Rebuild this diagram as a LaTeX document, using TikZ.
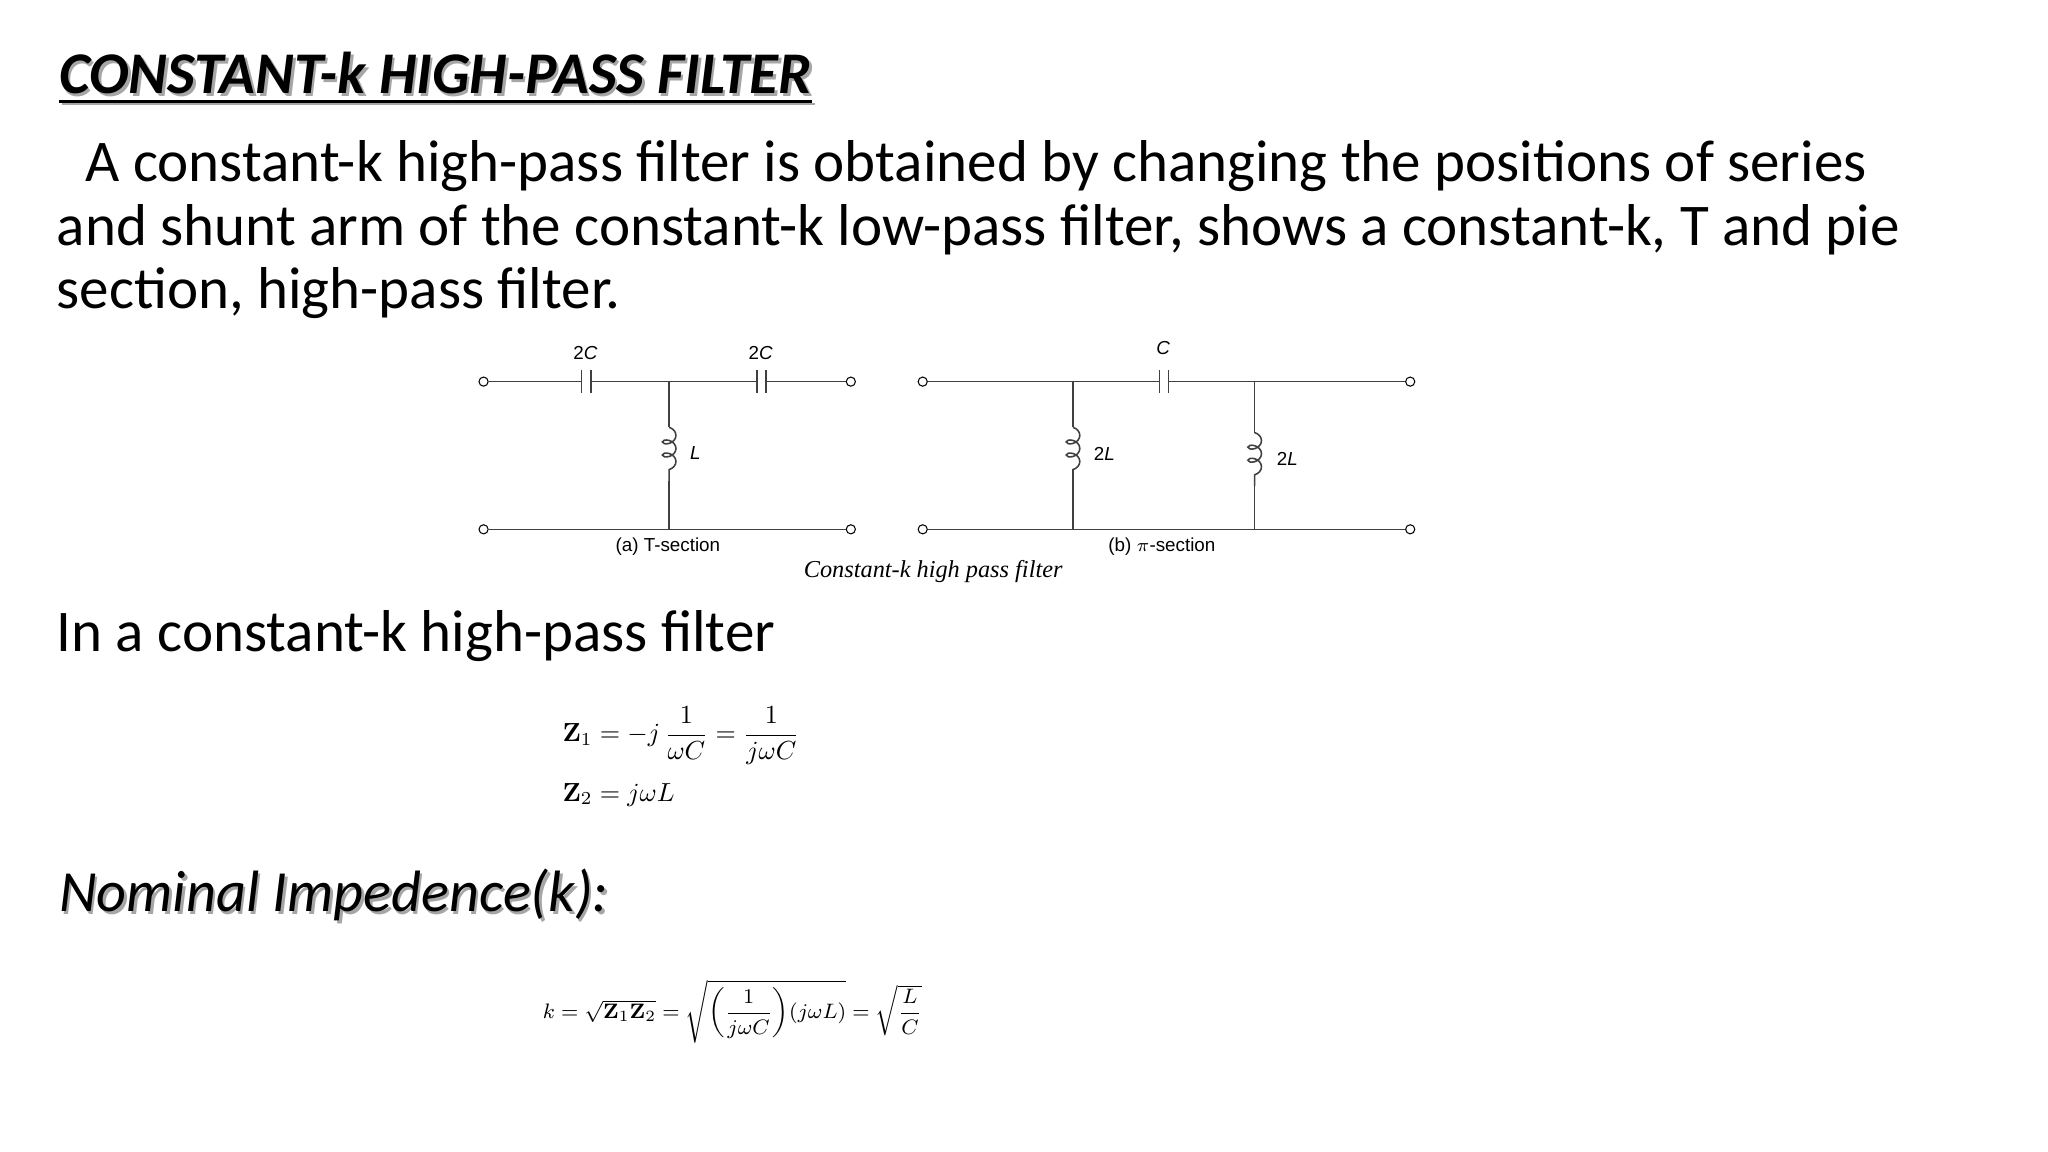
\documentclass[tikz,border=0pt]{standalone}
\usepackage{amsmath}
\usepackage[no-math]{fontspec}
\setmainfont{Carlito}
\newfontfamily\circfont{Liberation Sans}
\newfontfamily\capfont{Liberation Serif}
\usetikzlibrary{decorations.pathmorphing}
\begin{document}
\begin{tikzpicture}[x=0.5pt,y=-0.5pt,
  term/.style={circle,draw,inner sep=0pt,minimum size=3.5pt,fill=white},
  wire/.style={draw=black!75,line width=0.6pt},
  lbl/.style={font=\circfont\fontsize{7.2}{8}\selectfont,inner sep=1pt},
  body/.style={font=\fontsize{22.6}{26}\selectfont,anchor=west,inner sep=0pt},
  coilst/.style={wire,decoration={coil,aspect=0.7,segment length=5pt,amplitude=2.6pt},decorate}]
\useasboundingbox (0,0) rectangle (1567,881);
% title
\node[body,font=\bfseries\itshape\fontsize{22.6}{26}\selectfont,text=black!35] at (47,62) {\underline{CONSTANT-k HIGH-PASS FILTER}};
\node[body,font=\bfseries\itshape\fontsize{22.6}{26}\selectfont] (title) at (45,60) {\underline{CONSTANT-k HIGH-PASS FILTER}};
\node[body] (p1) at (65,127) {A constant-k high-pass filter is obtained by changing the positions of series};
\node[body] (p2) at (43,176) {and shunt arm of the constant-k low-pass filter, shows a constant-k, T and pie};
\node[body] (p3) at (43,224) {section, high-pass filter.};
% T-section
\node[term] (a1) at (370,292) {};
\node[term] (a2) at (651,292) {};
\node[term] (a3) at (370,405) {};
\node[term] (a4) at (651,405) {};
\coordinate (ca1) at (445,292); \coordinate (ca2) at (452,292);
\coordinate (cb1) at (579,292); \coordinate (cb2) at (586,292);
\coordinate (ja) at (512,292); \coordinate (jb) at (512,405);
\coordinate (la1) at (512,327); \coordinate (la2) at (512,368);
\draw[wire] (a1) -- (ca1) (ca2) -- (cb1) (cb2) -- (a2);
\draw[wire] (445,283) -- (445,301) (452,283) -- (452,301);
\draw[wire] (579,283) -- (579,301) (586,283) -- (586,301);
\draw[wire] (ja) -- (la1) (la2) -- (jb);
\draw[coilst] (la1) -- (la2);
\draw[wire] (a3) -- (a4);
\node[lbl] (l2c1) at (448,270) {2\textit{C}};
\node[lbl] (l2c2) at (582,270) {2\textit{C}};
\node[lbl] (lL) at (532,347) {\textit{L}};
\node[lbl] (ta) at (511,418) {(a) T-section};
% pi-section
\node[term] (b1) at (706,292) {};
\node[term] (b2) at (1079,292) {};
\node[term] (b3) at (706,405) {};
\node[term] (b4) at (1079,405) {};
\coordinate (cc1) at (887,292); \coordinate (cc2) at (894,292);
\draw[wire] (b1) -- (cc1) (cc2) -- (b2);
\draw[wire] (887,283) -- (887,301) (894,283) -- (894,301);
\draw[wire] (b3) -- (b4);
\coordinate (s1t) at (821,292); \coordinate (s1b) at (821,405);
\coordinate (s1a) at (821,327); \coordinate (s1c) at (821,368);
\coordinate (s2t) at (960,292); \coordinate (s2b) at (960,405);
\coordinate (s2a) at (960,331); \coordinate (s2c) at (960,372);
\draw[wire] (s1t) -- (s1a) (s1c) -- (s1b) (s2t) -- (s2a) (s2c) -- (s2b);
\draw[coilst] (s1a) -- (s1c);
\draw[coilst] (s2a) -- (s2c);
\node[lbl] (lc) at (890,266) {\textit{C}};
\node[lbl] (l2L1) at (845,347) {2\textit{L}};
\node[lbl] (l2L2) at (985,351) {2\textit{L}};
\node[lbl] (tb) at (889,418) {(b) $\pi$-section};
\node[font=\capfont\itshape\fontsize{9.3}{11}\selectfont] (cap) at (714,437) {Constant-k high pass filter};
% text
\node[body] (p4) at (43,487) {In a constant-k high-pass filter};
\node[anchor=west,inner sep=0pt,font=\fontsize{10}{12}\selectfont] (eq1) at (430,563) {$\mathbf{Z}_1=-j\,\dfrac{1}{\omega C}=\dfrac{1}{j\omega C}$};
\node[anchor=west,inner sep=0pt,font=\fontsize{10}{12}\selectfont] (eq2) at (430,608) {$\mathbf{Z}_2=j\omega L$};
\node[body,font=\itshape\fontsize{22.3}{26}\selectfont,text=black!35] at (47,687) {Nominal Impedence(k):};
\node[body,font=\itshape\fontsize{22.3}{26}\selectfont] (nom) at (45,685) {Nominal Impedence(k):};
\node[anchor=west,inner sep=0pt,font=\fontsize{8.2}{10}\selectfont] (eq3) at (415,774) {$k=\sqrt{\mathbf{Z}_1\mathbf{Z}_2}=\sqrt{\left(\dfrac{1}{j\omega C}\right)\!(j\omega L)}=\sqrt{\dfrac{L}{C}}$};
\end{tikzpicture}
\end{document}
